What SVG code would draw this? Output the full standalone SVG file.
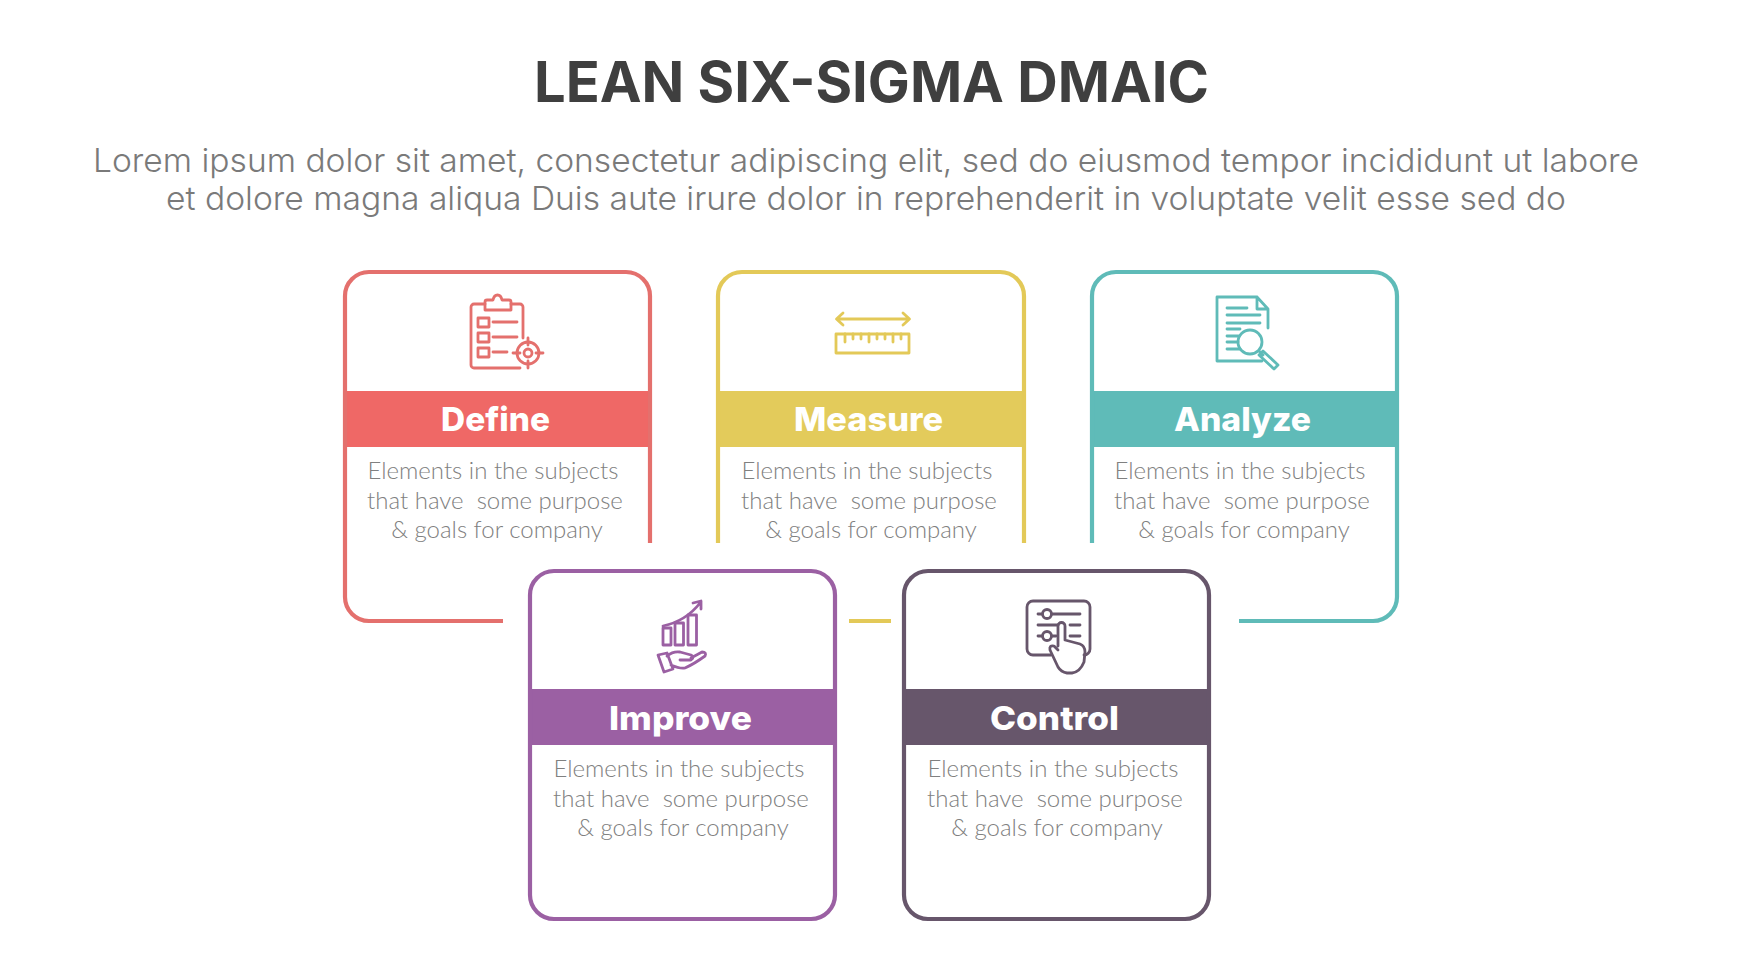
<svg xmlns="http://www.w3.org/2000/svg" width="1742" height="980" viewBox="0 0 1742 980">
<style>
.title{font:700 56px Inter,"Liberation Sans",sans-serif;fill:#3f3f3f}
.sub{font:300 33px Inter,"Liberation Sans",sans-serif;fill:#7a7a7a}
.lab{font:800 33px Inter,"Liberation Sans",sans-serif;fill:#fff}
.body{font:300 24px Lato,"Liberation Sans",sans-serif;fill:#808080;text-anchor:middle;white-space:pre}
.box{fill:none;stroke-width:4.2}
.ic{fill:none;stroke-width:2.8;stroke-linecap:round;stroke-linejoin:round}
</style>
<rect width="1742" height="980" fill="#fff"/>
<text class="title" x="534" y="102" textLength="675" lengthAdjust="spacingAndGlyphs">LEAN SIX-SIGMA DMAIC</text>
<text class="sub" x="93" y="172" textLength="1546" lengthAdjust="spacingAndGlyphs">Lorem ipsum dolor sit amet, consectetur adipiscing elit, sed do eiusmod tempor incididunt ut labore</text>
<text class="sub" x="166" y="210" textLength="1400" lengthAdjust="spacingAndGlyphs">et dolore magna aliqua Duis aute irure dolor in reprehenderit in voluptate velit esse sed do</text>

<g id="define">
<rect x="345" y="391" width="305" height="56" fill="#ef6866"/>
<path class="box" stroke="#e4706d" d="M650 543V296a24 24 0 0 0-24-24H369a24 24 0 0 0-24 24V597a24 24 0 0 0 24 24H503"/>
<text class="lab" x="441" y="431" textLength="109" lengthAdjust="spacingAndGlyphs">Define</text>
<text class="body" x="493" y="479">Elements in the subjects</text>
<text class="body" x="495" y="509">that have  some purpose</text>
<text class="body" x="497" y="538">&amp; goals for company</text>
<g class="ic" stroke="#e4706d">
<path d="M485 304H474a3 3 0 0 0-3 3V365a3 3 0 0 0 3 3H520M511 304H520a3 3 0 0 1 3 3V338"/>
<path d="M485 310V302a2 2 0 0 1 2-2H493q1-5 4.500-5t4.500 5H509a2 2 0 0 1 2 2V310Z"/>
<rect x="478" y="318" width="11" height="9"/><rect x="478" y="333" width="11" height="9"/><rect x="478" y="348" width="11" height="9"/>
<path d="M493 322H517M493 337H517M493 352H507"/>
<circle cx="528" cy="353" r="11"/><circle cx="528" cy="353" r="4"/>
<path d="M513 353H520M536 353H543M528 338V345M528 361V368"/>
</g>
</g>

<g id="measure">
<rect x="718" y="391" width="306" height="56" fill="#e3cb5b"/>
<path class="box" stroke="#e3c958" d="M1024 543V296a24 24 0 0 0-24-24H742a24 24 0 0 0-24 24V543M849 621H891"/>
<text class="lab" x="794" y="431" textLength="149" lengthAdjust="spacingAndGlyphs">Measure</text>
<text class="body" x="867" y="479">Elements in the subjects</text>
<text class="body" x="869" y="509">that have  some purpose</text>
<text class="body" x="871" y="538">&amp; goals for company</text>
<g class="ic" stroke="#e3c958">
<path d="M838 319H908M843 313L836.500 319L843 325M903 313L909.500 319L903 325"/>
<rect x="836" y="334" width="73" height="19"/>
<path d="M845 334V342M853 334V339M861 334V339M869 334V342M877 334V339M885 334V339M893 334V342M901 334V339"/>
</g>
</g>

<g id="analyze">
<rect x="1092" y="391" width="305" height="56" fill="#5fbbb8"/>
<path class="box" stroke="#5fbbb8" d="M1092 543V296a24 24 0 0 1 24-24H1373a24 24 0 0 1 24 24V597a24 24 0 0 1-24 24H1239"/>
<text class="lab" x="1174" y="431" textLength="137" lengthAdjust="spacingAndGlyphs">Analyze</text>
<text class="body" x="1240" y="479">Elements in the subjects</text>
<text class="body" x="1242" y="509">that have  some purpose</text>
<text class="body" x="1244" y="538">&amp; goals for company</text>
<g class="ic" stroke="#5fbbb8">
<path d="M1268 328V309L1257 297H1217V361H1262M1257 297V309H1268"/>
<path d="M1227 308H1247M1227 315H1260M1227 323H1260M1227 329H1240M1227 336H1238M1227 342H1238M1227 349H1240"/>
<circle cx="1250" cy="342" r="12"/>
<path d="M1259 351L1263 355M1263 351L1278 365L1274 369L1259 355Z"/>
</g>
</g>

<g id="improve">
<rect x="530" y="689" width="305" height="56" fill="#9b60a3"/>
<rect class="box" stroke="#9b60a3" x="530" y="571" width="305" height="348" rx="24"/>
<text class="lab" x="609" y="730" textLength="143" lengthAdjust="spacingAndGlyphs">Improve</text>
<text class="body" x="679" y="777">Elements in the subjects</text>
<text class="body" x="681" y="807">that have  some purpose</text>
<text class="body" x="683" y="836">&amp; goals for company</text>
<g class="ic" stroke="#9b60a3">
<rect x="663" y="628" width="8" height="17"/><rect x="675" y="623" width="8.500" height="22"/><rect x="688" y="615" width="8.500" height="30"/>
<path d="M663 626Q686 621 700 603M693 603L701 601L701 609"/>
<path d="M658 655L667 653L673 669L664 672ZM667 656Q673 651 680 652L691 655Q695 657 691 660L680 660M691 658L702 652Q707 652 705 656Q694 664 685 668Q680 669 671 665"/>
</g>
</g>

<g id="control">
<rect x="904" y="689" width="305" height="56" fill="#67566b"/>
<rect class="box" stroke="#67566b" x="904" y="571" width="305" height="348" rx="24"/>
<text class="lab" x="990" y="730" textLength="129" lengthAdjust="spacingAndGlyphs">Control</text>
<text class="body" x="1053" y="777">Elements in the subjects</text>
<text class="body" x="1055" y="807">that have  some purpose</text>
<text class="body" x="1057" y="836">&amp; goals for company</text>
<g class="ic" stroke="#67566b">
<path d="M1051 655H1033a6 6 0 0 1-6-6V607a6 6 0 0 1 6-6H1084a6 6 0 0 1 6 6V649a6 6 0 0 1-6 6H1084"/>
<path d="M1038 614H1042M1052 614H1080M1038 625H1058M1070 625H1080M1038 636H1042M1052 636H1056M1070 636H1080"/>
<circle cx="1047" cy="614" r="4.500"/><circle cx="1047" cy="636" r="4.500"/>
<path d="M1058 646V626a3.500 3.500 0 0 1 7 0V640L1080 644Q1085 646 1085 652L1084 662Q1080 672 1072 673H1067Q1061 672 1058 667L1050 650Q1049 645 1054 646L1058 650"/>
</g>
</g>
</svg>
